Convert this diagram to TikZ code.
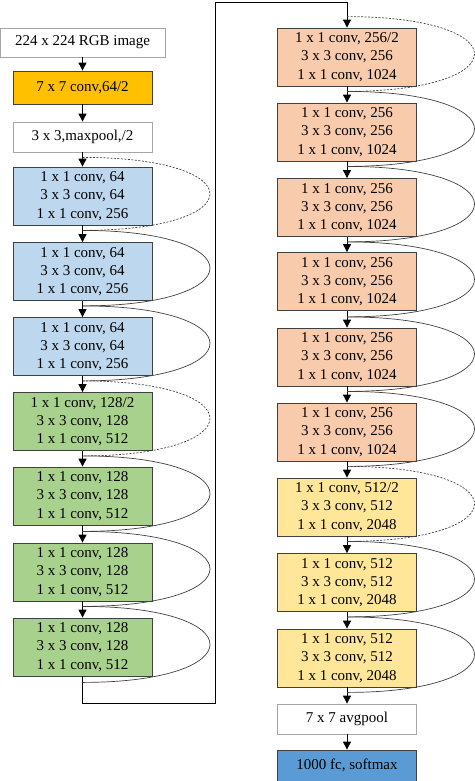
\documentclass[tikz,border=0pt]{standalone}
\usepackage{fontspec}
\setmainfont{Liberation Serif}
\usetikzlibrary{arrows.meta}
\definecolor{stemorange}{HTML}{FFC000}
\definecolor{blueblk}{HTML}{BDD7EE}
\definecolor{greenblk}{HTML}{A9D18E}
\definecolor{salmonblk}{HTML}{F8CBAD}
\definecolor{yellowblk}{HTML}{FFE699}
\definecolor{fcblue}{HTML}{5B9BD5}
\definecolor{edgegray}{HTML}{404040}
\definecolor{palegray}{HTML}{A6A6A6}

\begin{document}
\begin{tikzpicture}[x=1pt,y=-1pt,>={Triangle[width=8pt,length=8pt]},
  blk/.style={draw=edgegray,line width=0.8pt,minimum width=139pt,minimum height=58pt,
    inner sep=0pt,align=center,font=\fontsize{15}{18.3}\selectfont},
  flatbox/.style={blk,minimum height=30pt},
  whitebox/.style={flatbox,draw=palegray,fill=white},
  flow/.style={->,line width=0.9pt,black},
  skip/.style={line width=0.7pt,edgegray},
  skipdash/.style={skip,dash pattern=on 2pt off 1.5pt}]
\useasboundingbox (0,0) rectangle (474,781);
% left column: stem and conv2_x, conv3_x
\node[whitebox,minimum width=165pt,minimum height=29pt] (img) at (82.5,42.5) {224 x 224 RGB image};
\node[flatbox,fill=stemorange,minimum height=33pt] (stem) at (82.5,87.5) {7 x 7 conv,64/2};
\node[whitebox] (pool) at (82.5,137) {3 x 3,maxpool,/2};
\node[blk,fill=blueblk] (b1) at (82.5,196) {1 x 1 conv, 64\\3 x 3 conv, 64\\1 x 1 conv, 256};
\node[blk,fill=blueblk] (b2) at (82.5,271.5) {1 x 1 conv, 64\\3 x 3 conv, 64\\1 x 1 conv, 256};
\node[blk,fill=blueblk] (b3) at (82.5,346.5) {1 x 1 conv, 64\\3 x 3 conv, 64\\1 x 1 conv, 256};
\node[blk,fill=greenblk] (g1) at (82.5,421.5) {1 x 1 conv, 128/2\\3 x 3 conv, 128\\1 x 1 conv, 512};
\node[blk,fill=greenblk] (g2) at (82.5,496) {1 x 1 conv, 128\\3 x 3 conv, 128\\1 x 1 conv, 512};
\node[blk,fill=greenblk] (g3) at (82.5,572) {1 x 1 conv, 128\\3 x 3 conv, 128\\1 x 1 conv, 512};
\node[blk,fill=greenblk] (g4) at (82.5,647) {1 x 1 conv, 128\\3 x 3 conv, 128\\1 x 1 conv, 512};
% right column: conv4_x, conv5_x and head
\node[blk,fill=salmonblk] (o1) at (347,57) {1 x 1 conv, 256/2\\3 x 3 conv, 256\\1 x 1 conv, 1024};
\node[blk,fill=salmonblk] (o2) at (347,132) {1 x 1 conv, 256\\3 x 3 conv, 256\\1 x 1 conv, 1024};
\node[blk,fill=salmonblk] (o3) at (347,207.5) {1 x 1 conv, 256\\3 x 3 conv, 256\\1 x 1 conv, 1024};
\node[blk,fill=salmonblk] (o4) at (347,281.5) {1 x 1 conv, 256\\3 x 3 conv, 256\\1 x 1 conv, 1024};
\node[blk,fill=salmonblk] (o5) at (347,357) {1 x 1 conv, 256\\3 x 3 conv, 256\\1 x 1 conv, 1024};
\node[blk,fill=salmonblk] (o6) at (347,432) {1 x 1 conv, 256\\3 x 3 conv, 256\\1 x 1 conv, 1024};
\node[blk,fill=yellowblk] (y1) at (347,507) {1 x 1 conv, 512/2\\3 x 3 conv, 512\\1 x 1 conv, 2048};
\node[blk,fill=yellowblk] (y2) at (347,582.5) {1 x 1 conv, 512\\3 x 3 conv, 512\\1 x 1 conv, 2048};
\node[blk,fill=yellowblk] (y3) at (347,658) {1 x 1 conv, 512\\3 x 3 conv, 512\\1 x 1 conv, 2048};
\node[whitebox] (avg) at (347,719) {7 x 7 avgpool};
\node[flatbox,fill=fcblue,minimum height=31pt] (fc) at (347,765.5) {1000 fc, softmax};
% main path
\draw[flow] (img) -- (stem);
\draw[flow] (stem) -- (pool);
\draw[flow] (pool) -- (b1);
\draw[flow] (b1) -- (b2);
\draw[flow] (b2) -- (b3);
\draw[flow] (b3) -- (g1);
\draw[flow] (g1) -- (g2);
\draw[flow] (g2) -- (g3);
\draw[flow] (g3) -- (g4);
\coordinate (lowbend) at (215,703);
\coordinate (topbend) at (215,2);
\draw[flow] (g4.south) |- (lowbend) -- (topbend) -| (o1.north);
\draw[flow] (o1) -- (o2);
\draw[flow] (o2) -- (o3);
\draw[flow] (o3) -- (o4);
\draw[flow] (o4) -- (o5);
\draw[flow] (o5) -- (o6);
\draw[flow] (o6) -- (y1);
\draw[flow] (y1) -- (y2);
\draw[flow] (y2) -- (y3);
\draw[flow] (y3) -- (avg);
\draw[flow] (avg) -- (fc);
% shortcut joints on the main path
\coordinate (jl0) at ([yshift=-5pt]pool.south);
\coordinate (jl1) at ([yshift=-5pt]b1.south);
\coordinate (jl2) at ([yshift=-5pt]b2.south);
\coordinate (jl3) at ([yshift=-5pt]b3.south);
\coordinate (jl4) at ([yshift=-5pt]g1.south);
\coordinate (jl5) at ([yshift=-6pt]g2.south);
\coordinate (jl6) at ([yshift=-5pt]g3.south);
\coordinate (jl7) at ([yshift=-6pt]g4.south);
\coordinate (jr0) at ([yshift=11pt]o1.north);
\coordinate (jr1) at ([yshift=-5pt]o1.south);
\coordinate (jr2) at ([yshift=-5pt]o2.south);
\coordinate (jr3) at ([yshift=-5pt]o3.south);
\coordinate (jr4) at ([yshift=-6pt]o4.south);
\coordinate (jr5) at ([yshift=-5pt]o5.south);
\coordinate (jr6) at ([yshift=-5pt]o6.south);
\coordinate (jr7) at ([yshift=-5pt]y1.south);
\coordinate (jr8) at ([yshift=-5pt]y2.south);
\coordinate (jr9) at ([yshift=-5pt]y3.south);
% shortcuts: dashed where the block downsamples
\draw[skipdash] (jl0) .. controls +(170,0) and +(170,0) .. (jl1);
\draw[skip] (jl1) .. controls +(170,0) and +(170,0) .. (jl2);
\draw[skip] (jl2) .. controls +(170,0) and +(170,0) .. (jl3);
\draw[skipdash] (jl3) .. controls +(170,0) and +(170,0) .. (jl4);
\draw[skip] (jl4) .. controls +(170,0) and +(170,0) .. (jl5);
\draw[skip] (jl5) .. controls +(170,0) and +(170,0) .. (jl6);
\draw[skip] (jl6) .. controls +(170,0) and +(170,0) .. (jl7);
\draw[skipdash] (jr0) .. controls +(170,0) and +(170,0) .. (jr1);
\draw[skip] (jr1) .. controls +(170,0) and +(170,0) .. (jr2);
\draw[skip] (jr2) .. controls +(170,0) and +(170,0) .. (jr3);
\draw[skip] (jr3) .. controls +(170,0) and +(170,0) .. (jr4);
\draw[skip] (jr4) .. controls +(170,0) and +(170,0) .. (jr5);
\draw[skip] (jr5) .. controls +(170,0) and +(170,0) .. (jr6);
\draw[skipdash] (jr6) .. controls +(170,0) and +(170,0) .. (jr7);
\draw[skip] (jr7) .. controls +(170,0) and +(170,0) .. (jr8);
\draw[skip] (jr8) .. controls +(170,0) and +(170,0) .. (jr9);
\end{tikzpicture}
\end{document}
